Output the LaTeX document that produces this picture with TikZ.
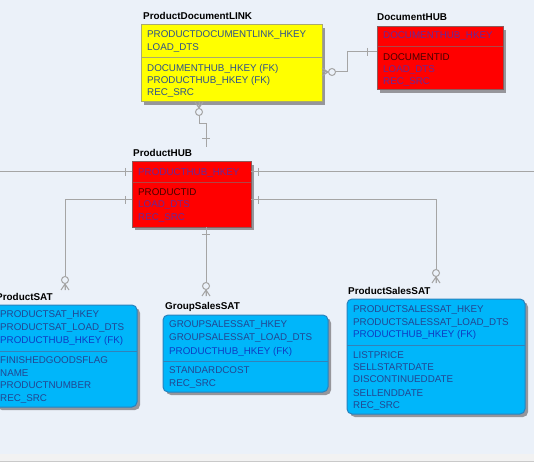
\documentclass[tikz,border=0pt]{standalone}
\usepackage{fontspec}
\setmainfont{Liberation Sans}
\usetikzlibrary{shadows,calc}
\definecolor{bg}{RGB}{235,241,249}
\definecolor{strip}{RGB}{242,242,242}
\definecolor{lg}{RGB}{165,165,165}
\definecolor{ylw}{RGB}{255,255,0}
\definecolor{ylwb}{RGB}{170,170,110}
\definecolor{rd}{RGB}{255,0,0}
\definecolor{rdb}{RGB}{140,90,90}
\definecolor{rsep}{RGB}{175,70,70}
\definecolor{cy}{RGB}{0,182,250}
\definecolor{cyb}{RGB}{40,130,190}
\definecolor{csep}{RGB}{50,130,185}
\definecolor{ytx}{RGB}{45,80,140}
\definecolor{rtx}{RGB}{105,40,150}
\definecolor{rdk}{RGB}{70,0,0}
\definecolor{ctx}{RGB}{35,70,145}
\definecolor{cfk}{RGB}{15,60,195}
\definecolor{shd}{RGB}{150,150,155}
\newcommand{\footd}[2]{\draw[rel] (#1-4,#2) -- (#1,#2-6) -- (#1+4,#2) (#1,#2) -- (#1,#2-6);
  \draw[rel,fill=bg] (#1,#2-10) circle[radius=3.5];}
\begin{document}
\begin{tikzpicture}[x=1bp,y=-1bp,
  ent/.style={anchor=north west,inner sep=0,outer sep=0,line width=1bp,
    drop shadow={shadow xshift=3bp,shadow yshift=-3bp,fill=shd,opacity=1}},
  yent/.style={ent,fill=ylw,draw=ylwb},
  rent/.style={ent,fill=rd,draw=rdb},
  cent/.style={ent,fill=cy,draw=cyb,rounded corners=5bp},
  attr/.style={anchor=base west,inner sep=0,font=\fontsize{9.8bp}{12bp}\selectfont},
  ttl/.style={anchor=base west,inner sep=0,font=\fontsize{9.9bp}{12bp}\selectfont\bfseries},
  rel/.style={draw=lg,line width=1bp},
  sepl/.style={line width=1bp}]
\useasboundingbox (0,0) rectangle (534,462);
\clip (0,0) rectangle (534,462);
\fill[bg] (0,0) rectangle (534,454);
\fill[strip] (0,454) rectangle (534,462);
\draw[lg!60,line width=1bp] (0,461.5) -- (534,461.5);

% ---------- connectors ----------
\coordinate (b1) at (347,72);
\coordinate (b2) at (347,52);
\coordinate (b3) at (199,124);
\coordinate (b4) at (206,124);
\coordinate (b5) at (206,147);
\coordinate (e1) at (0,172);
\coordinate (e2) at (534,172);
\coordinate (b6) at (65,200);
\coordinate (f1) at (65,290);
\coordinate (b7) at (436,200);
\coordinate (f2) at (436,283);
\coordinate (f3) at (206,296);

% ---------- entities ----------
\node[yent,minimum width=181bp,minimum height=77bp] (link) at (141,25) {};
\node[rent,minimum width=126bp,minimum height=63bp] (doch) at (377,27) {};
\node[rent,minimum width=119bp,minimum height=65bp] (phub) at (132,162) {};
\node[cent,minimum width=143bp,minimum height=102bp] (psat) at (-6,305) {};
\node[cent,minimum width=165bp,minimum height=77bp] (gsat) at (163,315) {};
\node[cent,minimum width=178bp,minimum height=115bp] (pss) at (347,299) {};

\draw[rel] (link.east |- b1) -- (b1) -- (b2) -- (doch.west |- b2);
\draw[rel] (link.south -| b3) -- (b3) -- (b4) -- (b5);
\draw[rel] (e1) -- (phub.west |- e1);
\draw[rel] (phub.east |- e2) -- (e2);
\draw[rel] (phub.west |- b6) -- (b6) -- (f1);
\draw[rel] (phub.east |- b7) -- (b7) -- (f2);
\draw[rel] (phub.south -| f3) -- (f3);

% markers
\draw[rel] (322,68) -- (328,72) -- (322,76) (322,72) -- (328,72);
\draw[rel,fill=bg] (332,72) circle[radius=3.5];
\draw[rel] (367,48) -- (367,56);
\draw[rel] (195,102) -- (199,108) -- (203,102) (199,102) -- (199,108);
\draw[rel,fill=bg] (199,112) circle[radius=3.5];
\draw[rel] (202,139) -- (210,139);
\draw[rel] (125,168) -- (125,176);
\draw[rel] (258,168) -- (258,176);
\draw[rel] (125,196) -- (125,204);
\draw[rel] (258,196) -- (258,204);
\draw[rel] (202,235) -- (210,235);
\footd{65}{290}
\footd{436}{283}
\footd{206}{296}

% separators
\draw[sepl,ylwb] ($(link.north west)+(0,33)$) -- ($(link.north east)+(0,33)$);
\draw[sepl,rsep] ($(doch.north west)+(0,20)$) -- ($(doch.north east)+(0,20)$);
\draw[sepl,rsep] ($(phub.north west)+(0,21)$) -- ($(phub.north east)+(0,21)$);
\draw[sepl,csep] ($(psat.north west)+(0,46)$) -- ($(psat.north east)+(0,46)$);
\draw[sepl,csep] ($(gsat.north west)+(0,46)$) -- ($(gsat.north east)+(0,46)$);
\draw[sepl,csep] ($(pss.north west)+(0,46)$) -- ($(pss.north east)+(0,46)$);

% ---------- titles ----------
\node[ttl] (tlink) at (143,19.2) {ProductDocumentLINK};
\node[ttl] (tdoch) at (377,21) {DocumentHUB};
\node[ttl] (tphub) at (133,156.8) {ProductHUB};
\node[ttl] (tpsat) at (-4,300.5) {ProductSAT};
\node[ttl] (tgsat) at (165,309.5) {GroupSalesSAT};
\node[ttl] (tpss) at (348,294.5) {ProductSalesSAT};

% ---------- attributes ----------
\node[attr,text=ytx] (l1) at (147,37.5) {PRODUCTDOCUMENTLINK\_HKEY};
\node[attr,text=ytx] (l2) at (147,50.5) {LOAD\_DTS};
\node[attr,text=ytx] (l3) at (147,71.5) {DOCUMENTHUB\_HKEY (FK)};
\node[attr,text=ytx] (l4) at (147,83.5) {PRODUCTHUB\_HKEY (FK)};
\node[attr,text=ytx] (l5) at (147,95.5) {REC\_SRC};

\node[attr,text=rtx] (d1) at (383,38.5) {DOCUMENTHUB\_HKEY};
\node[attr,text=rdk] (d2) at (383,60.2) {DOCUMENTID};
\node[attr,text=rtx] (d3) at (383,72.5) {LOAD\_DTS};
\node[attr,text=rtx] (d4) at (383,84.5) {REC\_SRC};

\node[attr,text=rtx] (h1) at (138,175.2) {PRODUCTHUB\_HKEY};
\node[attr,text=rdk] (h2) at (138,195.8) {PRODUCTID};
\node[attr,text=rtx] (h3) at (138,207.5) {LOAD\_DTS};
\node[attr,text=rtx] (h4) at (138,220.8) {REC\_SRC};

\node[attr,text=ctx] (s1) at (0,317.8) {PRODUCTSAT\_HKEY};
\node[attr,text=ctx] (s2) at (0,330.8) {PRODUCTSAT\_LOAD\_DTS};
\node[attr,text=cfk] (s3) at (0,343.5) {PRODUCTHUB\_HKEY (FK)};
\node[attr,text=ctx] (s4) at (0,363.5) {FINISHEDGOODSFLAG};
\node[attr,text=ctx] (s5) at (0,376.2) {NAME};
\node[attr,text=ctx] (s6) at (0,388.8) {PRODUCTNUMBER};
\node[attr,text=ctx] (s7) at (0,401.5) {REC\_SRC};

\node[attr,text=ctx] (g1) at (169,327.8) {GROUPSALESSAT\_HKEY};
\node[attr,text=ctx] (g2) at (169,340.8) {GROUPSALESSAT\_LOAD\_DTS};
\node[attr,text=cfk] (g3) at (169,354.2) {PRODUCTHUB\_HKEY (FK)};
\node[attr,text=ctx] (g4) at (169,373.5) {STANDARDCOST};
\node[attr,text=ctx] (g5) at (169,386.8) {REC\_SRC};

\node[attr,text=ctx] (p1) at (353,312.8) {PRODUCTSALESSAT\_HKEY};
\node[attr,text=ctx] (p2) at (353,325.2) {PRODUCTSALESSAT\_LOAD\_DTS};
\node[attr,text=cfk] (p3) at (353,337.5) {PRODUCTHUB\_HKEY (FK)};
\node[attr,text=ctx] (p4) at (353,358.5) {LISTPRICE};
\node[attr,text=ctx] (p5) at (353,370.2) {SELLSTARTDATE};
\node[attr,text=ctx] (p6) at (353,382.8) {DISCONTINUEDDATE};
\node[attr,text=ctx] (p7) at (353,396.2) {SELLENDDATE};
\node[attr,text=ctx] (p8) at (353,408.5) {REC\_SRC};
\end{tikzpicture}
\end{document}
